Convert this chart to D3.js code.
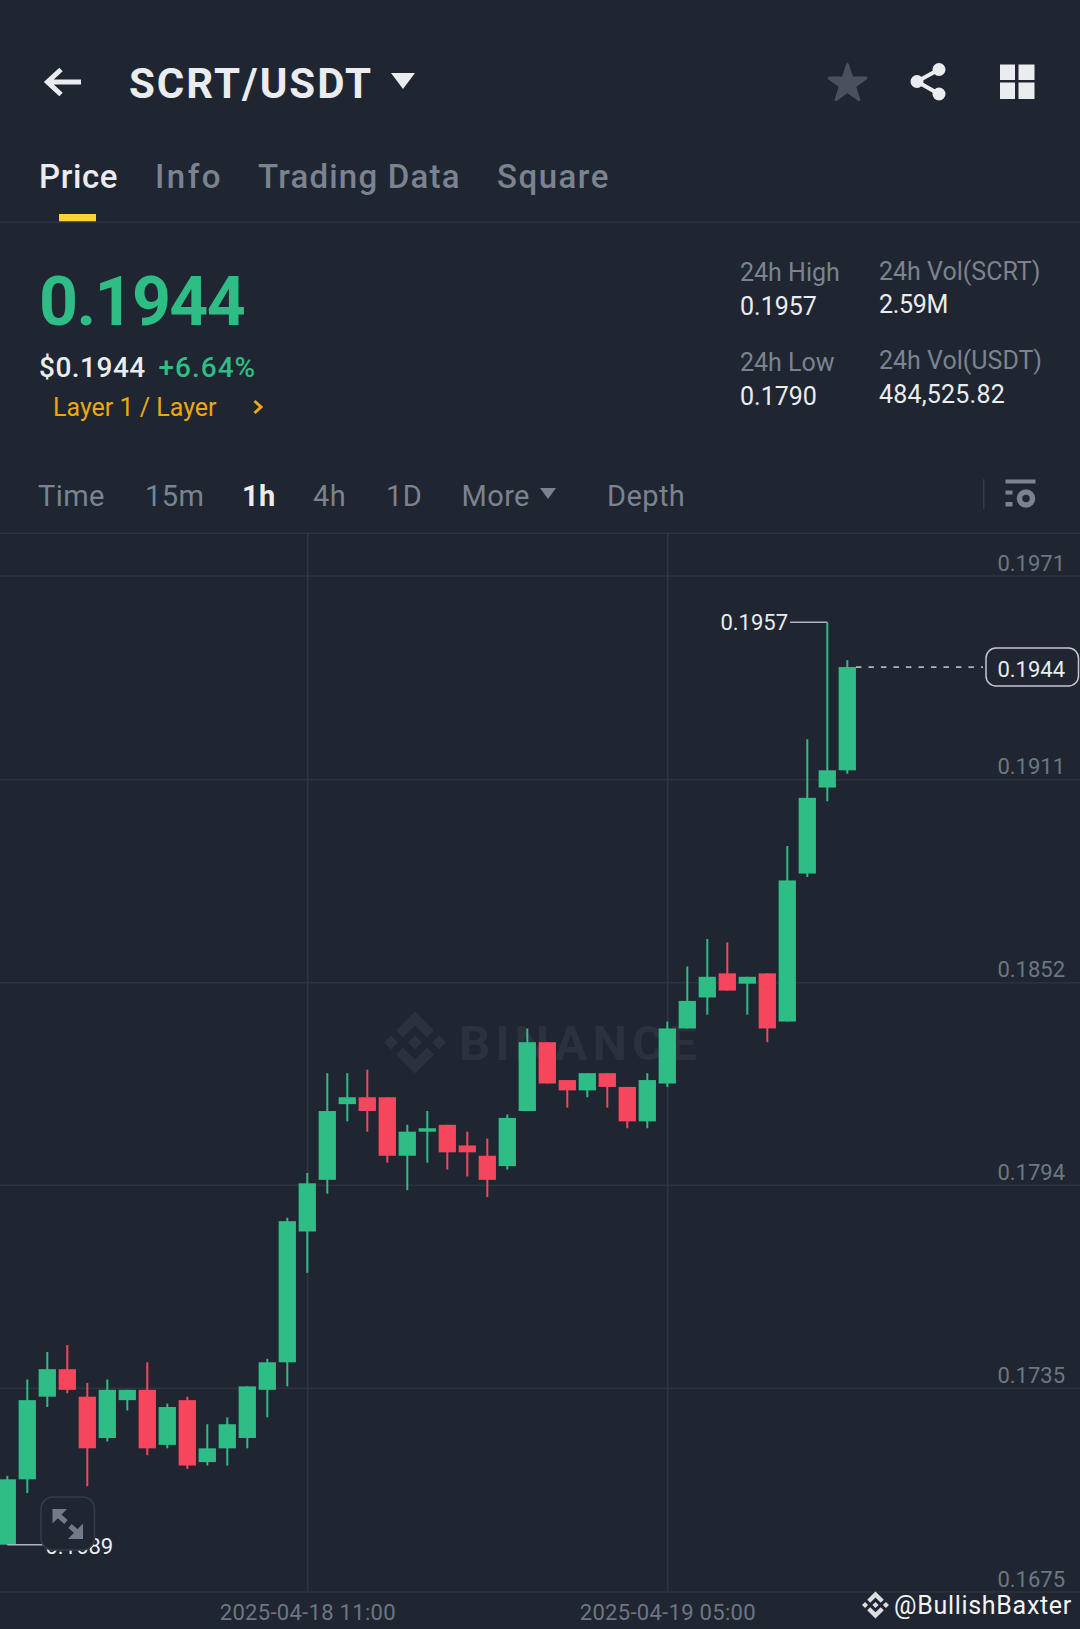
<!DOCTYPE html>
<html>
<head>
<meta charset="utf-8">
<style>
    html, body { margin: 0; padding: 0; background: #1f2631; }
    svg { display: block; font-family: Roboto, sans-serif; }
</style>
</head>
<body>
<script src="https://cdn.jsdelivr.net/npm/d3@7/dist/d3.min.js"></script>
<script>
const W = 1080, H = 1629;

// hourly candles, left to right
const times = [
    "2025-04-17T20:00Z","2025-04-17T21:00Z","2025-04-17T22:00Z","2025-04-17T23:00Z",
    "2025-04-18T00:00Z","2025-04-18T01:00Z","2025-04-18T02:00Z","2025-04-18T03:00Z",
    "2025-04-18T04:00Z","2025-04-18T05:00Z","2025-04-18T06:00Z","2025-04-18T07:00Z",
    "2025-04-18T08:00Z","2025-04-18T09:00Z","2025-04-18T10:00Z","2025-04-18T11:00Z",
    "2025-04-18T12:00Z","2025-04-18T13:00Z","2025-04-18T14:00Z","2025-04-18T15:00Z",
    "2025-04-18T16:00Z","2025-04-18T17:00Z","2025-04-18T18:00Z","2025-04-18T19:00Z",
    "2025-04-18T20:00Z","2025-04-18T21:00Z","2025-04-18T22:00Z","2025-04-18T23:00Z",
    "2025-04-19T00:00Z","2025-04-19T01:00Z","2025-04-19T02:00Z","2025-04-19T03:00Z",
    "2025-04-19T04:00Z","2025-04-19T05:00Z","2025-04-19T06:00Z","2025-04-19T07:00Z",
    "2025-04-19T08:00Z","2025-04-19T09:00Z","2025-04-19T10:00Z","2025-04-19T11:00Z",
    "2025-04-19T12:00Z","2025-04-19T13:00Z","2025-04-19T14:00Z"
];
const opens = [
    .1689,.1708,.1732,.1740,.1732,.1720,.1731,.1734,.1718,.1731,.1713,.1717,.1720,.1734,.1742,
    .1780,.1795,.1817,.1819,.1819,.1802,.1809,.1811,.1805,.1802,.1799,.1815,.1835,.1824,.1821,
    .1826,.1822,.1812,.1823,.1839,.1848,.1855,.1852,.1855,.1841,.1884,.1909,.1914
];
const highs = [
    .1709,.1737,.1745,.1747,.1736,.1737,.1734,.1742,.1730,.1732,.1724,.1726,.1735,.1743,.1784,
    .1797,.1826,.1826,.1827,.1819,.1811,.1815,.1811,.1809,.1807,.1814,.1839,.1835,.1824,.1826,
    .1826,.1822,.1826,.1841,.1857,.1865,.1864,.1854,.1855,.1892,.1923,.1957,.1946
];
const lows = [
    .1689,.1704,.1729,.1733,.1706,.1719,.1728,.1715,.1717,.1711,.1712,.1712,.1717,.1726,.1735,
    .1768,.1791,.1812,.1809,.1800,.1792,.1800,.1798,.1796,.1790,.1798,.1815,.1823,.1816,.1819,
    .1816,.1810,.1810,.1822,.1839,.1843,.1850,.1843,.1835,.1841,.1883,.1905,.1913
];
const closes = [
    .1708,.1731,.1740,.1734,.1717,.1734,.1734,.1717,.1729,.1712,.1717,.1724,.1735,.1742,.1783,
    .1794,.1815,.1819,.1815,.1802,.1809,.1810,.1803,.1803,.1795,.1813,.1835,.1823,.1821,.1826,
    .1822,.1812,.1824,.1839,.1847,.1854,.1850,.1854,.1839,.1882,.1906,.1914,.1944
];
const yTicks = [0.19706, 0.19114, 0.18524, 0.17936, 0.17346, 0.16754];
const xTicks = ["2025-04-18T11:00Z", "2025-04-19T05:00Z"];

const lastPrice = 0.1944, highMark = 0.1957, lowMark = 0.1689;
const tabs = ["Price", "Info", "Trading Data", "Square"];
const periods = ["Time", "15m", "1h", "4h", "1D", "More", "Depth"];

const BG = "#1f2631", GREEN = "#2ebd85", RED = "#f6465d", GRID = "#2c333f",
      WHITE = "#eaecef", MUTED = "#7b8390", AXIS = "#6e7683";
const LOGO = "m38.73 53.2 24.59-24.58 24.6 24.6 14.3-14.31L63.32 0 24.42 38.9zm-38.73 10.11 14.3-14.31 14.31 14.31-14.31 14.3zm38.73 10.1 24.59 24.59 24.6-24.6 14.31 14.29-38.9 38.91-38.91-38.88zm59.27-10.1 14.3-14.31 14.31 14.3-14.31 14.32zm-20.17-.01-14.51-14.52-10.73 10.73-1.24 1.23-2.54 2.54 14.51 14.5 14.51-14.51z";

const parse = d3.isoParse;
const fmtTime = d3.utcFormat("%Y-%m-%d %H:%M");
const fmtPrice = d3.format(".4f");

const candles = times.map((t, i) => ({
    t: parse(t), o: opens[i], h: highs[i], l: lows[i], c: closes[i]
}));

const CHART_TOP = 533, CHART_BOTTOM = 1591.5;

const x = d3.scaleUtc()
    .domain([parse(times[0]), parse(times[times.length - 1])])
    .range([7.3, 847.3]);
const y = d3.scaleLinear()
    .domain([yTicks[0], yTicks[yTicks.length - 1]])
    .range([575.5, CHART_BOTTOM]);

const svg = d3.select("body").append("svg").attr("width", W).attr("height", H);
svg.append("rect").attr("width", W).attr("height", H).attr("fill", BG);

function label(txt, px, py, size, color, opts = {}) {
    return svg.append("text")
        .attr("x", px).attr("y", py)
        .attr("font-size", size)
        .attr("font-weight", opts.weight || 400)
        .attr("letter-spacing", opts.ls || 0)
        .attr("text-anchor", opts.anchor || "start")
        .attr("fill", color)
        .text(txt);
}

// ---- header ----
svg.append("path").attr("d", "M81 82H48M61 69.5L47.5 82L61 94.5")
    .attr("fill", "none").attr("stroke", WHITE).attr("stroke-width", 5);
label("SCRT/USDT", 129, 98, 42, WHITE, { weight: 700, ls: 2 });
svg.append("path").attr("d", "M391 73H415L403 89Z").attr("fill", WHITE);

svg.append("path")
    .attr("d", d3.symbol(d3.symbolStar, 420))
    .attr("transform", "translate(847.5,84)")
    .attr("fill", "#4a505c").attr("stroke", "#4a505c")
    .attr("stroke-width", 3).attr("stroke-linejoin", "round");

const share = svg.append("g").attr("fill", WHITE).attr("stroke", WHITE);
share.append("path").attr("d", "M939 69.5L917 81.5L939 94").attr("fill", "none").attr("stroke-width", 4);
[[939, 69.5], [917, 81.5], [939, 94]].forEach(p =>
    share.append("circle").attr("cx", p[0]).attr("cy", p[1]).attr("r", 6.5).attr("stroke", "none"));

[[1000, 64.5, 15, 15.5], [1018.5, 64.5, 16, 15.5], [1000, 82.5, 15, 16.5], [1018.5, 82.5, 16, 16.5]].forEach(r =>
    svg.append("rect").attr("x", r[0]).attr("y", r[1]).attr("width", r[2]).attr("height", r[3]).attr("fill", WHITE));

// ---- tabs ----
const tabX = [39, 155, 258, 497];
const tabSpacing = [0.6, 2.5, 1.2, 1.5];
tabs.forEach((t, i) => label(t, tabX[i], 188, 33, i === 0 ? WHITE : MUTED, { weight: 500, ls: tabSpacing[i] }));
svg.append("rect").attr("x", 59).attr("y", 214).attr("width", 37).attr("height", 7.5).attr("fill", "#fcd535");
svg.append("rect").attr("x", 0).attr("y", 221.5).attr("width", W).attr("height", 1.5).attr("fill", GRID);

// ---- price block ----
label(fmtPrice(lastPrice), 39, 325, 68, GREEN, { weight: 700, ls: -1.6 });
label("$" + fmtPrice(lastPrice), 39, 377, 28, WHITE, { weight: 500, ls: 0.5 });
label("+6.64%", 158.5, 377, 28, GREEN, { weight: 500, ls: 1 });
label("Layer 1 / Layer", 53, 416, 25, "#eaa90f");
svg.append("path").attr("d", "M254.5 401L261 407L254.5 413")
    .attr("fill", "none").attr("stroke", "#eaa90f").attr("stroke-width", 3);

label("24h High", 740, 281, 25, MUTED);
label("0.1957", 740, 315, 25, WHITE);
label("24h Low", 740, 371, 25, MUTED);
label("0.1790", 740, 405, 25, WHITE);
label("24h Vol(SCRT)", 879, 280, 25, MUTED);
label("2.59M", 879, 313, 25, WHITE, { ls: -0.3 });
label("24h Vol(USDT)", 879, 369, 25, MUTED);
label("484,525.82", 879, 403, 25, WHITE, { ls: 0.2 });

// ---- period bar ----
const periodX = [38, 145, 242, 313, 386, 461.5, 607];
periods.forEach((p, i) => label(p, periodX[i], 506, 29, i === 2 ? WHITE : MUTED, { weight: i === 2 ? 700 : 400, ls: 0.4 }));
svg.append("path").attr("d", "M540 488H556L548 499Z").attr("fill", MUTED);
svg.append("rect").attr("x", 983).attr("y", 479).attr("width", 1.5).attr("height", 30).attr("fill", "#343b47");
const gear = svg.append("g").attr("fill", MUTED);
gear.append("rect").attr("x", 1005.5).attr("y", 479.5).attr("width", 30).attr("height", 4);
gear.append("rect").attr("x", 1005.5).attr("y", 490.5).attr("width", 7).attr("height", 4);
gear.append("rect").attr("x", 1005.5).attr("y", 502).attr("width", 7).attr("height", 4.5);
gear.append("circle").attr("cx", 1026).attr("cy", 498.5).attr("r", 6.5)
    .attr("fill", "none").attr("stroke", MUTED).attr("stroke-width", 5.5);

svg.append("rect").attr("x", 0).attr("y", 532.5).attr("width", W).attr("height", 1.5).attr("fill", GRID);

// ---- axes ----
const yAxis = d3.axisRight(y).tickValues(yTicks).tickFormat(fmtPrice).tickSize(W);
svg.append("g").attr("class", "y-axis").call(yAxis).call(g => {
    g.select(".domain").remove();
    g.selectAll("line").attr("stroke", GRID).attr("stroke-width", 1.5);
    g.selectAll("text").attr("x", 1065).attr("dy", -5.5).attr("text-anchor", "end")
        .attr("font-size", 22).attr("font-family", "Roboto, sans-serif")
        .attr("fill", AXIS);
});

const xAxis = d3.axisBottom(x).tickValues(xTicks.map(parse)).tickFormat(fmtTime)
    .tickSizeInner(-(CHART_BOTTOM - CHART_TOP)).tickSizeOuter(0);
svg.append("g").attr("class", "x-axis").attr("transform", `translate(0,${CHART_BOTTOM})`).call(xAxis).call(g => {
    g.select(".domain").remove();
    g.selectAll("line").attr("stroke", "#343b47").attr("stroke-width", 1.2);
    g.selectAll("text").attr("y", 28).attr("dy", 0)
        .attr("font-size", 22).attr("font-family", "Roboto, sans-serif")
        .attr("letter-spacing", 0.3).attr("fill", AXIS);
});

// ---- BINANCE watermark, below the candles ----
svg.append("path").attr("d", LOGO)
    .attr("transform", "translate(384,1011.5) scale(0.49)").attr("fill", "#2b313d");
label("BINANCE", 459, 1060, 49, "#2b313d", { weight: 700, ls: 5 });

// ---- candles ----
const colorOf = d => d.c >= d.o ? GREEN : RED;
const BODY = 17.3;
svg.append("g").selectAll("line").data(candles).join("line")
    .attr("x1", d => x(d.t)).attr("x2", d => x(d.t))
    .attr("y1", d => y(d.h)).attr("y2", d => y(d.l))
    .attr("stroke", colorOf).attr("stroke-width", 2);
svg.append("g").selectAll("rect").data(candles).join("rect")
    .attr("x", d => x(d.t) - BODY / 2)
    .attr("width", BODY)
    .attr("y", d => y(Math.max(d.o, d.c)))
    .attr("height", d => Math.max(1, Math.abs(y(d.o) - y(d.c))))
    .attr("fill", colorOf);

// ---- high / low / last marks ----
const markColor = "#aeb4bc";
const iHigh = highs.indexOf(highMark), iLast = candles.length - 1;
svg.append("line")
    .attr("x1", 790).attr("x2", x(candles[iHigh].t))
    .attr("y1", y(highMark)).attr("y2", y(highMark))
    .attr("stroke", markColor).attr("stroke-width", 1.5);
label(fmtPrice(highMark), 788, y(highMark) + 8, 22, WHITE, { anchor: "end" });

svg.append("line")
    .attr("x1", x(candles[0].t)).attr("x2", 43)
    .attr("y1", y(lowMark)).attr("y2", y(lowMark))
    .attr("stroke", markColor).attr("stroke-width", 1.5);
label(fmtPrice(lowMark), 45.5, y(lowMark) + 9, 22, WHITE);

svg.append("line")
    .attr("x1", x(candles[iLast].t) + BODY / 2).attr("x2", 983)
    .attr("y1", y(lastPrice)).attr("y2", y(lastPrice))
    .attr("stroke", markColor).attr("stroke-width", 1.8).attr("stroke-dasharray", "5.5 7");
svg.append("rect").attr("x", 986).attr("y", 648).attr("width", 92.5).attr("height", 38).attr("rx", 10)
    .attr("fill", BG).attr("stroke", "#c4c8ce").attr("stroke-width", 1.5);
label(fmtPrice(lastPrice), 1065, 677, 22, WHITE, { anchor: "end" });

// ---- expand button, sits over the low label ----
svg.append("rect").attr("x", 41).attr("y", 1497).attr("width", 53.5).attr("height", 53).attr("rx", 12)
    .attr("fill", BG).attr("stroke", "#353c48").attr("stroke-width", 1.5);
svg.append("path").attr("d", "M52.5 1509H67L52.5 1523.5ZM83 1523.5V1539H68Z").attr("fill", "#747b88");
svg.append("path").attr("d", "M58 1515L66 1522M70 1526L78 1533")
    .attr("stroke", "#747b88").attr("stroke-width", 5).attr("fill", "none");

// ---- credit ----
svg.append("path").attr("d", LOGO)
    .attr("transform", "translate(862,1591.5) scale(0.213)").attr("fill", "#dcdee1");
label("@BullishBaxter", 894, 1614, 25, "#f2f3f4", { ls: 0.7 });
</script>
</body>
</html>
